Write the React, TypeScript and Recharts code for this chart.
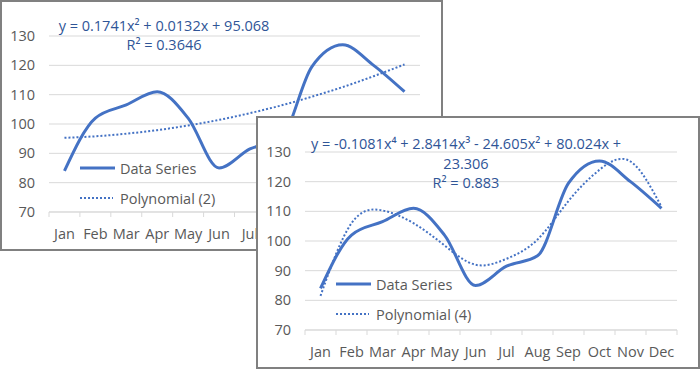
import React from 'react'
import { LineChart, Line, XAxis, YAxis, CartesianGrid } from 'recharts'

const months = ['Jan', 'Feb', 'Mar', 'Apr', 'May', 'Jun', 'Jul', 'Aug', 'Sep', 'Oct', 'Nov', 'Dec']
const dataSeries = [84, 102, 106.5, 111, 102, 85, 91.5, 95, 119.5, 127, 120, 111]
const poly2 = [95.3, 95.8, 96.7, 97.9, 99.5, 101.4, 103.7, 106.3, 109.3, 112.6, 116.3, 120.3]
const poly4 = [81.5, 106, 110.3, 106, 98.5, 92, 94, 100.5, 113.5, 124, 126.8, 111.5]
const yTicks = [70, 80, 90, 100, 110, 120, 130]
const xTicks = [0.5, 1, 1.5, 2, 2.5, 3, 3.5, 4, 4.5, 5, 5.5, 6, 6.5, 7, 7.5, 8, 8.5, 9, 9.5, 10, 10.5, 11, 11.5, 12, 12.5]

const BLUE = '#4472c4'
const GRID = '#d9d9d9'
const TEXT = '#595959'
const EQ = '#2f5597'
const FONT = '"Open Sans", sans-serif'
const FS = 14.5

function MonthTick({ x, y, payload }: any) {
  const v = payload.value
  if (!Number.isInteger(v)) {
    return <line x1={x} x2={x} y1={y} y2={y + 5} stroke={GRID} strokeWidth={1} />
  }
  return (
    <text x={x} y={y + 27} textAnchor="middle" fill={TEXT} fontSize={FS} fontFamily={FONT}>
      {months[v - 1]}
    </text>
  )
}

interface PanelProps {
  left: number
  top: number
  width: number
  height: number
  trend: number[]
  trendName: string
  equation: string[]
  eqX: number
  eqTop: number
  eqLine: number
}

function Panel({ left, top, width, height, trend, trendName, equation, eqX, eqTop, eqLine }: PanelProps) {
  const data = months.map((m, i) => ({ i: i + 1, month: m, value: dataSeries[i], trend: trend[i] }))
  return (
    <div style={{
      position: 'absolute', left, top, width: width - 4, height: height - 4,
      border: '2px solid #808080', background: '#fff', fontFamily: FONT,
    }}>
      <LineChart width={width - 4} height={height - 4} data={data}
        margin={{ top: 34, right: 21, bottom: 0, left: 0 }}>
        <CartesianGrid vertical={false} stroke={GRID} />
        <XAxis
          type="number" dataKey="i" domain={[0.5, 12.5]} ticks={xTicks} interval={0}
          height={37} tickSize={0} tickMargin={0} tickLine={false}
          axisLine={{ stroke: GRID }} tick={<MonthTick />}
        />
        <YAxis
          domain={[70, 130]} ticks={yTicks} width={47} axisLine={false} tickLine={false}
          tickMargin={8} tick={{ fill: TEXT, fontSize: FS, fontFamily: FONT }}
        />
        <Line type="natural" dataKey="trend" stroke={BLUE} strokeWidth={2}
          strokeDasharray="2 2" dot={false} isAnimationActive={false} />
        <Line type="monotone" dataKey="value" stroke={BLUE} strokeWidth={3}
          dot={false} isAnimationActive={false} />
      </LineChart>

      <div style={{ position: 'absolute', left: eqX - 200, width: 400, top: eqTop, textAlign: 'center', color: EQ, fontSize: FS, lineHeight: `${eqLine}px` }}>
        {equation.map((t) => (
          <div key={t} style={{ whiteSpace: 'nowrap' }}>{t}</div>
        ))}
      </div>

      <div style={{ position: 'absolute', left: 78, top: 155, color: TEXT, fontSize: FS }}>
        <div style={{ display: 'flex', alignItems: 'center', height: 22 }}>
          <svg width={36} height={6}><line x1={0} x2={35} y1={3} y2={3} stroke={BLUE} strokeWidth={3} /></svg>
          <span style={{ marginLeft: 4 }}>Data Series</span>
        </div>
        <div style={{ display: 'flex', alignItems: 'center', height: 22, marginTop: 8 }}>
          <svg width={36} height={6}><line x1={0} x2={33} y1={3} y2={3} stroke={BLUE} strokeWidth={2} strokeDasharray="2 2" /></svg>
          <span style={{ marginLeft: 4 }}>{trendName}</span>
        </div>
      </div>
    </div>
  )
}

export default function App() {
  return (
    <div style={{ position: 'absolute', left: 0, top: 0, width: 700, height: 369, background: '#fff', overflow: 'hidden' }}>
      <Panel
        left={0} top={0} width={443} height={251}
        trend={poly2} trendName="Polynomial (2)"
        equation={['y = 0.1741x² + 0.0132x + 95.068', 'R² = 0.3646']}
        eqX={162} eqTop={14} eqLine={19}
      />
      <Panel
        left={256} top={116} width={444} height={253}
        trend={poly4} trendName="Polynomial (4)"
        equation={['y = -0.1081x⁴ + 2.8414x³ - 24.605x² + 80.024x +', '23.306', 'R² = 0.883']}
        eqX={208} eqTop={16} eqLine={19.5}
      />
    </div>
  )
}
